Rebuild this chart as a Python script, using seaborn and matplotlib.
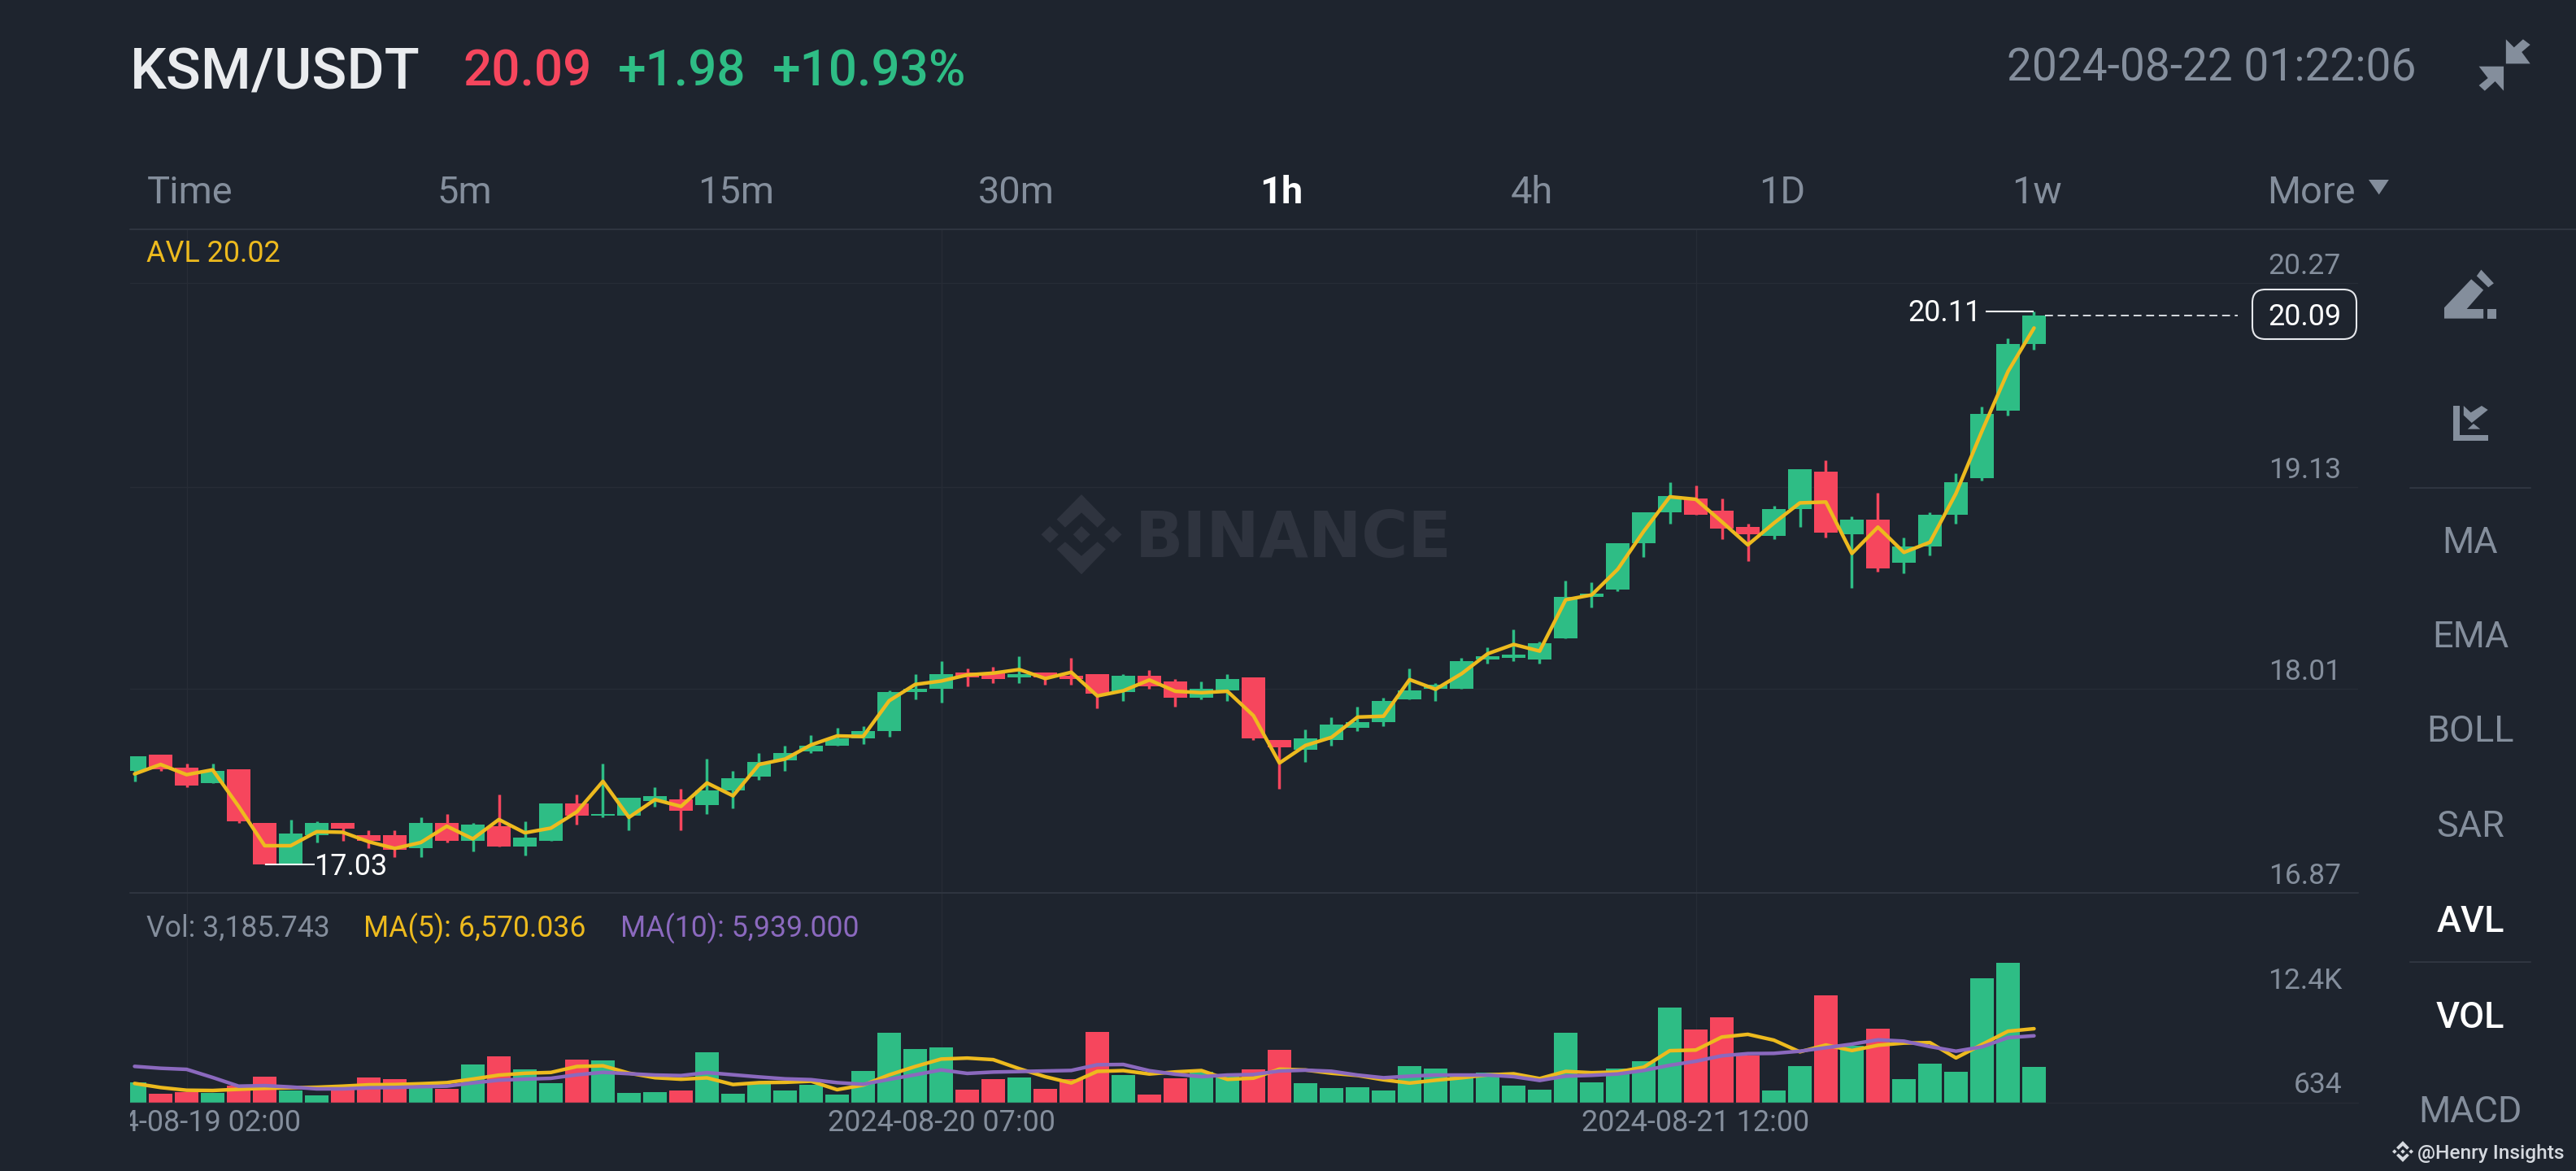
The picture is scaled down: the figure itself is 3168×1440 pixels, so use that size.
import numpy as np
import pandas as pd
import matplotlib
matplotlib.use("Agg")
import matplotlib.pyplot as plt
import seaborn as sns
from matplotlib.patches import Polygon, FancyBboxPatch
from matplotlib.lines import Line2D
from matplotlib.transforms import IdentityTransform, Bbox

# ---------- data ----------
open_p = [17.55,17.64,17.57,17.48,17.56,17.26,17.03,17.19,17.26,17.19,17.19,17.12,17.26,17.16,17.24,17.13,17.16,17.37,17.30,17.30,
          17.38,17.39,17.36,17.44,17.52,17.61,17.66,17.69,17.73,17.77,17.99,18.01,18.10,18.10,18.07,18.10,18.08,18.09,17.99,18.08,
          18.05,17.96,18.00,18.07,17.72,17.67,17.72,17.79,17.82,17.95,18.01,18.01,18.17,18.18,18.17,18.29,18.52,18.56,18.82,18.99,
          19.07,19.00,18.91,18.86,19.01,19.22,18.87,18.95,18.71,18.80,18.98,19.18,19.56,19.93]
close_p = [17.63,17.56,17.47,17.55,17.27,17.03,17.20,17.26,17.23,17.16,17.11,17.26,17.16,17.25,17.13,17.18,17.37,17.30,17.31,17.40,
           17.41,17.33,17.44,17.51,17.60,17.65,17.69,17.73,17.77,17.99,18.01,18.09,18.07,18.06,18.09,18.07,18.06,17.98,18.08,18.02,
           17.96,18.01,18.06,17.73,17.68,17.73,17.81,17.82,17.94,18.00,18.03,18.16,18.19,18.20,18.26,18.52,18.54,18.82,18.99,19.08,
           18.98,18.90,18.87,19.01,19.23,18.88,18.95,18.68,18.80,18.98,19.16,19.54,19.93,20.09]
high_p = [17.63,17.64,17.59,17.59,17.56,17.26,17.28,17.27,17.26,17.22,17.22,17.29,17.31,17.26,17.42,17.27,17.37,17.42,17.59,17.40,
          17.46,17.45,17.62,17.55,17.65,17.69,17.75,17.79,17.80,18.00,18.09,18.16,18.12,18.13,18.19,18.10,18.18,18.09,18.09,18.11,
          18.06,18.05,18.09,18.07,17.72,17.78,17.85,17.91,17.96,18.12,18.04,18.18,18.24,18.34,18.27,18.61,18.60,18.82,18.99,19.16,
          19.14,19.07,18.93,19.03,19.23,19.28,18.97,19.10,18.85,18.99,19.21,19.58,19.96,20.11]
low_p = [17.49,17.55,17.46,17.48,17.26,17.03,17.03,17.15,17.16,17.12,17.07,17.07,17.15,17.10,17.13,17.08,17.16,17.25,17.29,17.22,
         17.35,17.22,17.31,17.34,17.50,17.55,17.65,17.69,17.70,17.74,17.95,17.93,18.02,18.04,18.04,18.03,18.03,17.90,17.94,18.01,
         17.91,17.95,17.94,17.72,17.45,17.60,17.69,17.77,17.80,17.95,17.94,18.01,18.15,18.16,18.15,18.29,18.46,18.55,18.74,18.93,
         18.98,18.84,18.72,18.84,18.91,18.85,18.57,18.66,18.65,18.75,18.93,19.17,19.53,19.90]
avl = [17.533,17.586,17.529,17.556,17.352,17.133,17.133,17.211,17.208,17.155,17.118,17.151,17.242,17.171,17.279,17.205,17.231,17.322,17.492,17.291,
       17.390,17.352,17.483,17.411,17.586,17.616,17.695,17.745,17.742,17.941,18.032,18.051,18.085,18.095,18.115,18.065,18.100,17.968,17.997,18.057,
       17.994,17.986,17.994,17.858,17.594,17.692,17.737,17.850,17.855,18.059,18.005,18.092,18.203,18.255,18.218,18.504,18.531,18.674,18.886,19.078,
       19.064,18.939,18.810,18.931,19.044,19.049,18.762,18.909,18.768,18.825,19.097,19.445,19.777,20.019]
volume = [1781,818,963,867,1516,2287,1083,634,1276,2239,2118,1396,1204,3418,4116,2937,1757,3851,3731,842,
          915,1083,4453,770,1685,1059,1565,698,2792,6234,4766,4886,1131,2094,2214,1204,2118,6282,2431,698,
          2142,2720,2359,2985,4694,1757,1276,1372,1059,3249,3009,2359,2672,1540,1131,6186,1781,3009,3659,8449,
          6475,7558,4212,1083,3249,9532,5079,6547,2070,3442,2744,11048,12420,3186]
ma5 = [1709,1348,1107,1083,1189,1276,1324,1372,1468,1589,1613,1685,1781,2100,2450,2614,2686,3216,3278,2624,
       2219,2084,2205,1613,1781,1810,1906,1155,1560,2470,3211,3875,3962,3822,3018,2306,1752,2782,2850,2547,
       2734,2855,2070,2181,2980,2903,2614,2417,2032,1743,1993,2210,2470,2566,2142,2778,2662,2729,3153,4617,
       4675,5830,6071,5555,4515,5127,4631,5098,5295,5334,3976,5170,6345,6570]
ma10 = [3225,3057,2961,2239,1468,1516,1396,1228,1228,1324,1348,1420,1468,1757,1998,2094,2166,2479,2696,2575,
        2455,2407,2672,2479,2287,2118,2046,1781,1637,2070,2479,2912,2600,2720,2768,2816,2864,3370,3394,2840,
        2527,2311,2455,2503,2816,2888,2792,2455,2214,2359,2455,2455,2455,2311,1974,2359,2431,2551,2864,3322,
        3683,4164,4357,4381,4573,4886,5199,5584,5464,4982,4573,4958,5777,5939]
price_ticks = [20.27, 19.13, 18.01, 16.87]
vol_ticks = [12400, 634]
vol_tick_labels = ["12.4K", "634"]
date_index = [2, 31, 60]
date_labels = ["2024-08-19 02:00", "2024-08-20 07:00", "2024-08-21 12:00"]
tabs = ["Time", "5m", "15m", "30m", "1h", "4h", "1D", "1w"]
menu_items = ["MA", "EMA", "BOLL", "SAR", "AVL", "VOL", "MACD"]

# ---------- style ----------
W, H = 3168, 1440
BG = "#1E242E"; GREEN = "#2EBD85"; RED = "#F6465D"; YEL = "#EDBA1E"; PUR = "#8B69BE"
GREY = "#848E9C"; WHITE = "#EAECEF"; GRID = "#272C36"; LINE = "#2F3540"; WM = "#2F343F"
sns.set_theme(style="darkgrid", rc={"figure.facecolor": BG, "axes.facecolor": BG, "grid.color": GRID,
                                    "grid.linewidth": 1.0, "axes.axisbelow": True,
                                    "patch.force_edgecolor": False})
plt.rcParams["font.family"] = ["Roboto", "DejaVu Sans"]

fig = plt.figure(figsize=(W / 100, H / 100), dpi=100, facecolor=BG)
L, R = 160, 2900
TOP, MID, BOT = 281, 1098, 1356
def axes_px(x0, x1, y0, y1):
    return fig.add_axes([x0 / W, 1 - y1 / H, (x1 - x0) / W, (y1 - y0) / H])
ax = axes_px(L, R, TOP, MID)
axv = axes_px(L, R, MID, BOT)

idx = np.arange(len(close_p))
o, c, h, l = map(np.array, (open_p, close_p, high_p, low_p))
up = c >= o
colors = np.where(up, GREEN, RED)
STEP = 32.0; X0 = 165.5
xlim = ((L - X0) / STEP, (R - X0) / STEP)

# ---------- candles ----------
ax.vlines(idx, l, h, colors=colors, linewidth=2.5, zorder=2, capstyle="butt")
ax.bar(idx, np.maximum(np.abs(c - o), 0.01), bottom=np.minimum(o, c), width=0.88, color=colors,
       linewidth=0, edgecolor="none", zorder=3)
sns.lineplot(x=idx, y=avl, color=YEL, linewidth=3.2, ax=ax, zorder=4, estimator=None, sort=False)
ax.set_xlim(*xlim)
ax.set_ylim(16.87, 16.87 + (MID - TOP) / 220.6)
ax.set_xticks(date_index); ax.set_yticks(price_ticks)

# ---------- volume ----------
df = pd.DataFrame({"i": idx, "vol": volume, "dir": np.where(up, "up", "down")})
sns.barplot(data=df, x="i", y="vol", hue="dir", palette={"up": GREEN, "down": RED}, native_scale=True,
            width=0.88, dodge=False, saturation=1, legend=False, ax=axv, zorder=3, linewidth=0, edgecolor="none")
sns.lineplot(x=idx, y=ma5, color=YEL, linewidth=3.2, ax=axv, zorder=4, estimator=None, sort=False)
sns.lineplot(x=idx, y=ma10, color=PUR, linewidth=3.2, ax=axv, zorder=5, estimator=None, sort=False)
axv.set_xlim(*xlim)
axv.set_ylim(0, (BOT - MID) * 72.21)
axv.set_xticks(date_index); axv.set_yticks([])

for a in (ax, axv):
    a.set_xlabel(""); a.set_ylabel("")
    a.tick_params(length=0, labelbottom=False, labelleft=False)
    for s in a.spines.values():
        s.set_visible(False)
    a.grid(True, color=GRID, linewidth=1.0)

# ---------- helpers ----------
def txt(x, yc, s, em, color=GREY, ha="left", weight="normal"):
    return fig.text(x / W, 1 - (yc + 0.355 * em) / H, s, fontsize=em * 0.72, color=color, ha=ha,
                    va="baseline", fontweight=weight)
def hline(x0, x1, y, color=LINE, lw=1.5):
    fig.add_artist(Line2D([x0 / W, x1 / W], [1 - y / H, 1 - y / H], color=color, linewidth=lw,
                          transform=fig.transFigure))
def poly(pts, color, target=None, zorder=6):
    arr = np.array(pts, float)
    p = Polygon(np.c_[arr[:, 0], H - arr[:, 1]], closed=True, facecolor=color, edgecolor="none",
                transform=IdentityTransform(), zorder=zorder)
    if target is None:
        fig.add_artist(p)
    else:
        target.add_patch(p)
def zoomed(pts, x0, y0, sx, sy):
    return [(x0 + a / sx, y0 + b / sy) for a, b in pts]
def logo(cx, cy, w, color, target=None, zorder=6):
    k = w / 99.0
    shapes = [[(403,113),(470,205),(447,235),(403,180),(358,235),(335,205)],
              [(403,408),(470,315),(447,288),(403,340),(358,288),(335,315)],
              [(403,230),(427,261),(403,292),(380,261)],
              [(316,230),(340,261),(316,292),(292,261)],
              [(490,230),(514,261),(490,292),(466,261)]]
    for s in shapes:
        poly([(cx + (a - 403) / 2.24 * k, cy + (b - 260) / 3 * k) for a, b in s], color, target, zorder)

# ---------- axis labels ----------
for v in price_ticks:
    ax.annotate(f"{v:.2f}", xy=(1, v), xycoords=("axes fraction", "data"), xytext=(-21, 24), textcoords="offset pixels",
                ha="right", va="center_baseline", fontsize=35.5 * 0.72, color=GREY, annotation_clip=False, zorder=7)
for v, s, dy in zip(vol_ticks, vol_tick_labels, (-18.5, 16.0)):
    axv.annotate(s, xy=(1, v), xycoords=("axes fraction", "data"), xytext=(-20, dy), textcoords="offset pixels",
                 ha="right", va="center_baseline", fontsize=35.5 * 0.72, color=GREY, annotation_clip=False, zorder=7)
for i, s in zip(date_index, date_labels):
    t = axv.annotate(s, xy=(i, 0), xycoords="data", xytext=(0, -21), textcoords="offset pixels", ha="center",
                     va="center_baseline", fontsize=36 * 0.72, color=GREY, annotation_clip=False, zorder=7)
    t.set_clip_on(True)
    t.set_clip_box(Bbox([[L, 0], [W, H]]))

# ---------- extremes and last price ----------
imax = int(np.argmax(h)); imin = 5
ax.annotate(f"{h[imax]:.2f}", xy=(imax, h[imax]), xytext=(-65, 2), textcoords="offset pixels", ha="right",
            va="center_baseline", fontsize=36 * 0.72, color="white", zorder=8, annotation_clip=False)
ax.plot([imax - 59 / STEP, imax], [h[imax], h[imax]], color="white", linewidth=1.5, zorder=7, solid_capstyle="butt")
ax.annotate(f"{l[imin]:.2f}", xy=(imin, l[imin]), xytext=(61, 1), textcoords="offset pixels", ha="left",
            va="center_baseline", fontsize=36 * 0.72, color="white", zorder=8, annotation_clip=False)
ax.plot([imin, imin + 61 / STEP], [l[imin], l[imin]], color="white", linewidth=1.5, zorder=7, solid_capstyle="butt")
ax.plot([73 + 14 / STEP, (2752 - X0) / STEP], [c[-1], c[-1]], color="#D8DBE0", linewidth=1.4,
        linestyle=(0, (5, 3)), zorder=7)
fig.add_artist(FancyBboxPatch((2770, H - 417), 128, 61, boxstyle="round,pad=0,rounding_size=16",
                              facecolor=BG, edgecolor="#E6E8EC", linewidth=1.5,
                              transform=IdentityTransform(), zorder=6))
txt(2834, 387, f"{c[-1]:.2f}", 36, "white", ha="center").set_zorder(7)

# ---------- watermark ----------
logo(1330, 657, 99, WM, target=ax, zorder=0.6)
ax.text(1396 / W, 1 - (657 + 0.365 * 78) / H, "BINANCE", transform=fig.transFigure, fontsize=78 * 0.72, color=WM,
        fontweight="bold", family="DejaVu Sans", va="baseline", ha="left", zorder=0.6)

# ---------- header ----------
txt(160, 84.5, "KSM/USDT", 71, WHITE, weight=500)
txt(570, 83.5, "20.09", 62, RED, weight=500)
txt(760, 83.5, "+1.98", 62, GREEN, weight=500)
txt(950, 83.5, "+10.93%", 62, GREEN, weight=500)
txt(2971, 80, "2024-08-22 01:22:06", 55, GREY, ha="right")
poly(zoomed([(1412,85),(1430,115),(1450,85),(1466,105),(1447,132),(1466,175),(1412,175)], 2300, 20, 1.806, 3), GREY)
poly(zoomed([(1352,185),(1407,185),(1407,275),(1388,240),(1365,275),(1352,255),(1372,228)], 2300, 20, 1.806, 3), GREY)

# ---------- tabs ----------
tab_x = [234, 571, 905, 1250, 1576, 1884, 2192, 2505]
for s, x in zip(tabs, tab_x):
    active = s == "1h"
    txt(x, 233, s, 47, "white" if active else GREY, ha="center", weight="bold" if active else "normal")
txt(2788, 233, "More", 47, GREY)
poly(zoomed([(1107,603),(1152,603),(1130,658)], 2300, 20, 1.806, 3), GREY)
hline(L, W, TOP + 0.5, LINE, 1.5)
txt(180, 309.5, "AVL 20.02", 36, YEL)

# ---------- pane lines and legends ----------
hline(L, R, MID, LINE, 1.5)
hline(L, R, BOT, GRID, 1.0)
txt(180, 1139.5, "Vol: 3,185.743", 35.6, GREY)
txt(447, 1139.5, "MA(5): 6,570.036", 35.6, YEL)
txt(763, 1139.5, "MA(10): 5,939.000", 35.6, PUR)

# ---------- right menu ----------
menu_y = [664, 780, 896, 1013, 1130, 1248, 1364]
for s, y in zip(menu_items, menu_y):
    active = s in ("AVL", "VOL")
    txt(3038, y, s, 45, "white" if active else GREY, ha="center", weight=500 if active else "normal")
hline(2964, 3112, 600, LINE, 1.5)
hline(2964, 3112, 1183, LINE, 1.5)
zx, zy, sx, sy = 2300, 300, 1.806, 3
poly(zoomed([(1275,275),(1275,235),(1335,130),(1362,170),(1325,240),(1362,240),(1362,275)], zx, zy, sx, sy), GREY)
poly(zoomed([(1347,118),(1357,95),(1385,145),(1373,160)], zx, zy, sx, sy), GREY)
poly(zoomed([(1370,240),(1391,240),(1391,275),(1370,275)], zx, zy, sx, sy), GREY)
poly(zoomed([(1295,597),(1310,597),(1310,705),(1372,705),(1372,725),(1295,725)], zx, zy, sx, sy), GREY)
poly(zoomed([(1318,597),(1334,622),(1358,597),(1372,612),(1336,660),(1318,632)], zx, zy, sx, sy), GREY)
poly(zoomed([(1327,683),(1340,663),(1355,683)], zx, zy, sx, sy), GREY)

# ---------- credit ----------
logo(2955, 1416, 26, "#D5D9DF")
txt(2973, 1416, "@Henry Insights", 24.5, "#D5D9DF", weight=500)

fig.savefig("out.png", dpi=100, facecolor=BG)
